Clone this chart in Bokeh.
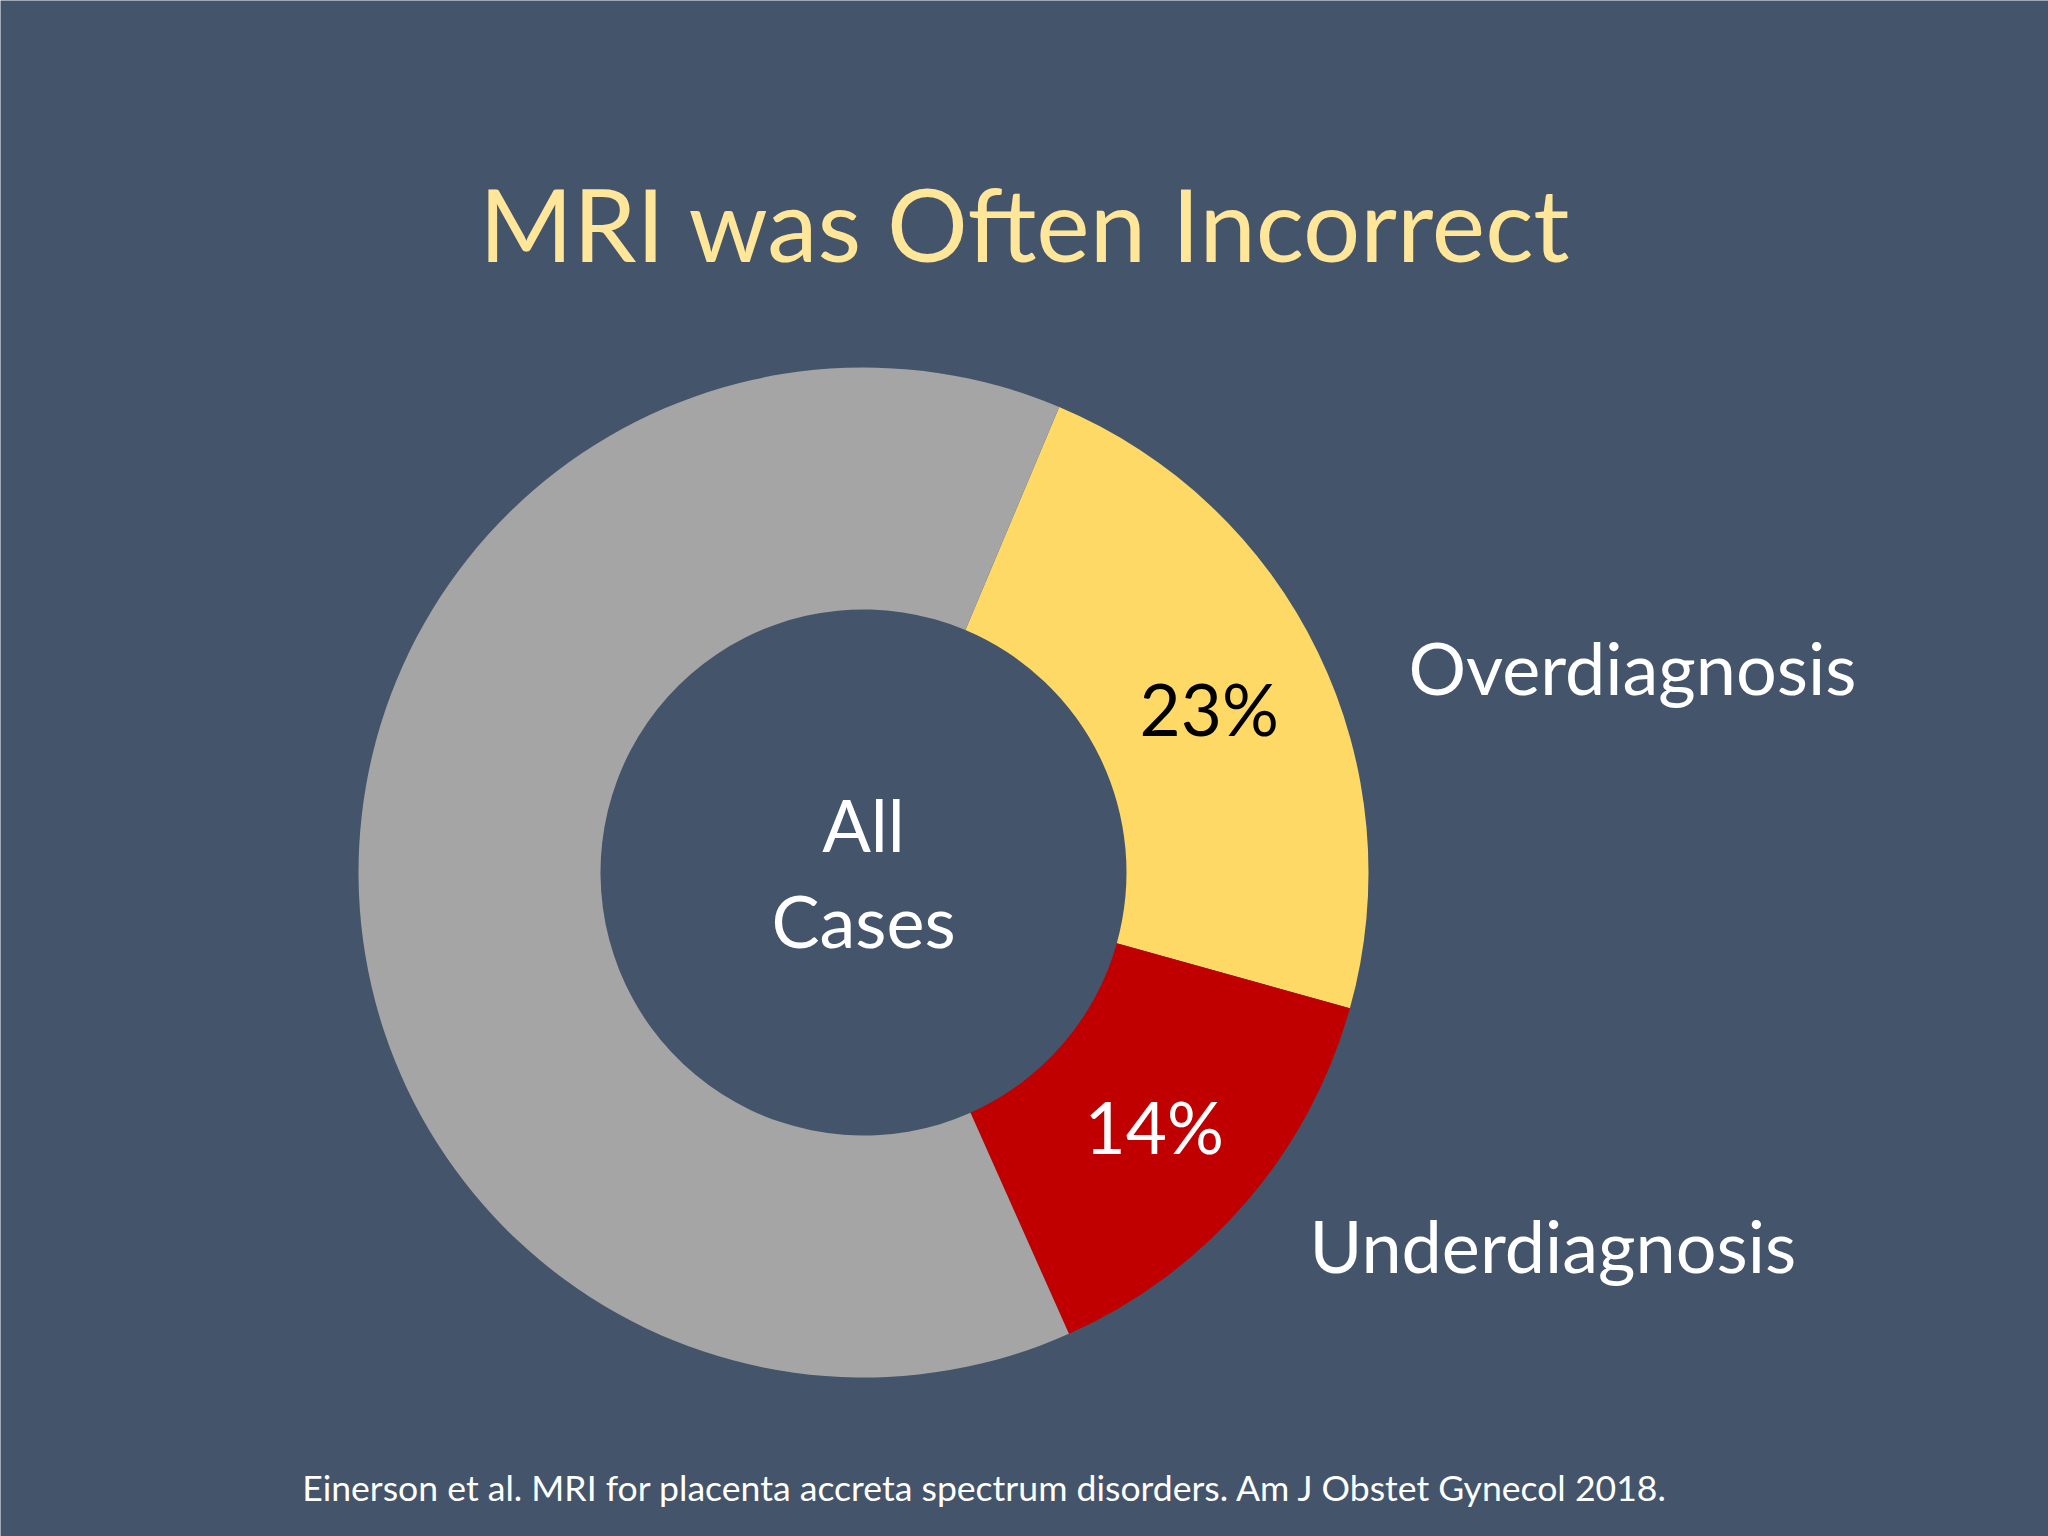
import math

from bokeh.core.properties import value
from bokeh.embed import file_html
from bokeh.models import Range1d
from bokeh.plotting import figure
from bokeh.resources import INLINE

# ---- data -------------------------------------------------------------
categories = ["Overdiagnosis", "Underdiagnosis", "Correct"]
percents = [23, 14, 63]
colors = ["#FFD966", "#C00000", "#A5A5A5"]
pct_labels = ["23%", "14%", ""]
pct_colors = ["#000000", "#FFFFFF", "#FFFFFF"]
center_lines = ["All", "Cases"]
title_text = "MRI was Often Incorrect"
footer_text = "Einerson et al. MRI for placenta accreta spectrum disorders. Am J Obstet Gynecol 2018."

# ---- page geometry ----------------------------------------------------
W, H = 2048, 1536
BG = "#44546A"
FONT = "Lato"
cx, cy = 863, H - 872
r_in, r_out = 263, 505
first_offset = 22.8  # degrees clockwise from 12 o'clock where the ring begins

p = figure(width=W, height=H, output_backend="svg", toolbar_location=None,
           x_range=Range1d(0, W), y_range=Range1d(0, H),
           min_border=0, background_fill_color=BG, border_fill_color=BG,
           outline_line_color=None)
p.axis.visible = False
p.grid.visible = False

# ---- ring -------------------------------------------------------------
total = float(sum(percents))
starts, ends, mids = [], [], []
acc = first_offset
for v in percents:
    a0 = acc
    a1 = acc + 360.0 * v / total
    starts.append(math.radians(90 - a0))
    ends.append(math.radians(90 - a1))
    mids.append(math.radians(90 - (a0 + a1) / 2))
    acc = a1

p.annular_wedge(x=[cx] * 3, y=[cy] * 3, inner_radius=r_in, outer_radius=r_out,
                start_angle=starts, end_angle=ends, direction="clock",
                fill_color=colors, line_color=None)

# ---- percentage labels at the middle of each segment -----------------
r_mid = (r_in + r_out) / 2
for lab, col, m in zip(pct_labels, pct_colors, mids):
    if not lab:
        continue
    p.text(x=[cx + r_mid * math.cos(m)], y=[cy + r_mid * math.sin(m) - 3],
           text=[lab], text_color=col, text_font=value(FONT),
           text_font_size="71px", text_align="center", text_baseline="middle")


def label(x, y_screen, txt, size, color="#FFFFFF", align="center"):
    p.text(x=[x], y=[H - y_screen], text=[txt], text_color=color,
           text_font=value(FONT), text_font_size=size, text_align=align,
           text_baseline="middle")


# ---- centre caption ---------------------------------------------------
label(cx, 823, center_lines[0], "72px")
label(cx, 919, center_lines[1], "72px")

# ---- category labels outside the ring --------------------------------
label(1408, 666, categories[0], "72px", align="left")
label(1309, 1244, categories[1], "72px", align="left")

# ---- title and source -------------------------------------------------
label(1025, 222, title_text, "101px", color="#FFE699")
label(985, 1487, footer_text, "35.6px")

open("out.html", "w").write(file_html(p, INLINE))
